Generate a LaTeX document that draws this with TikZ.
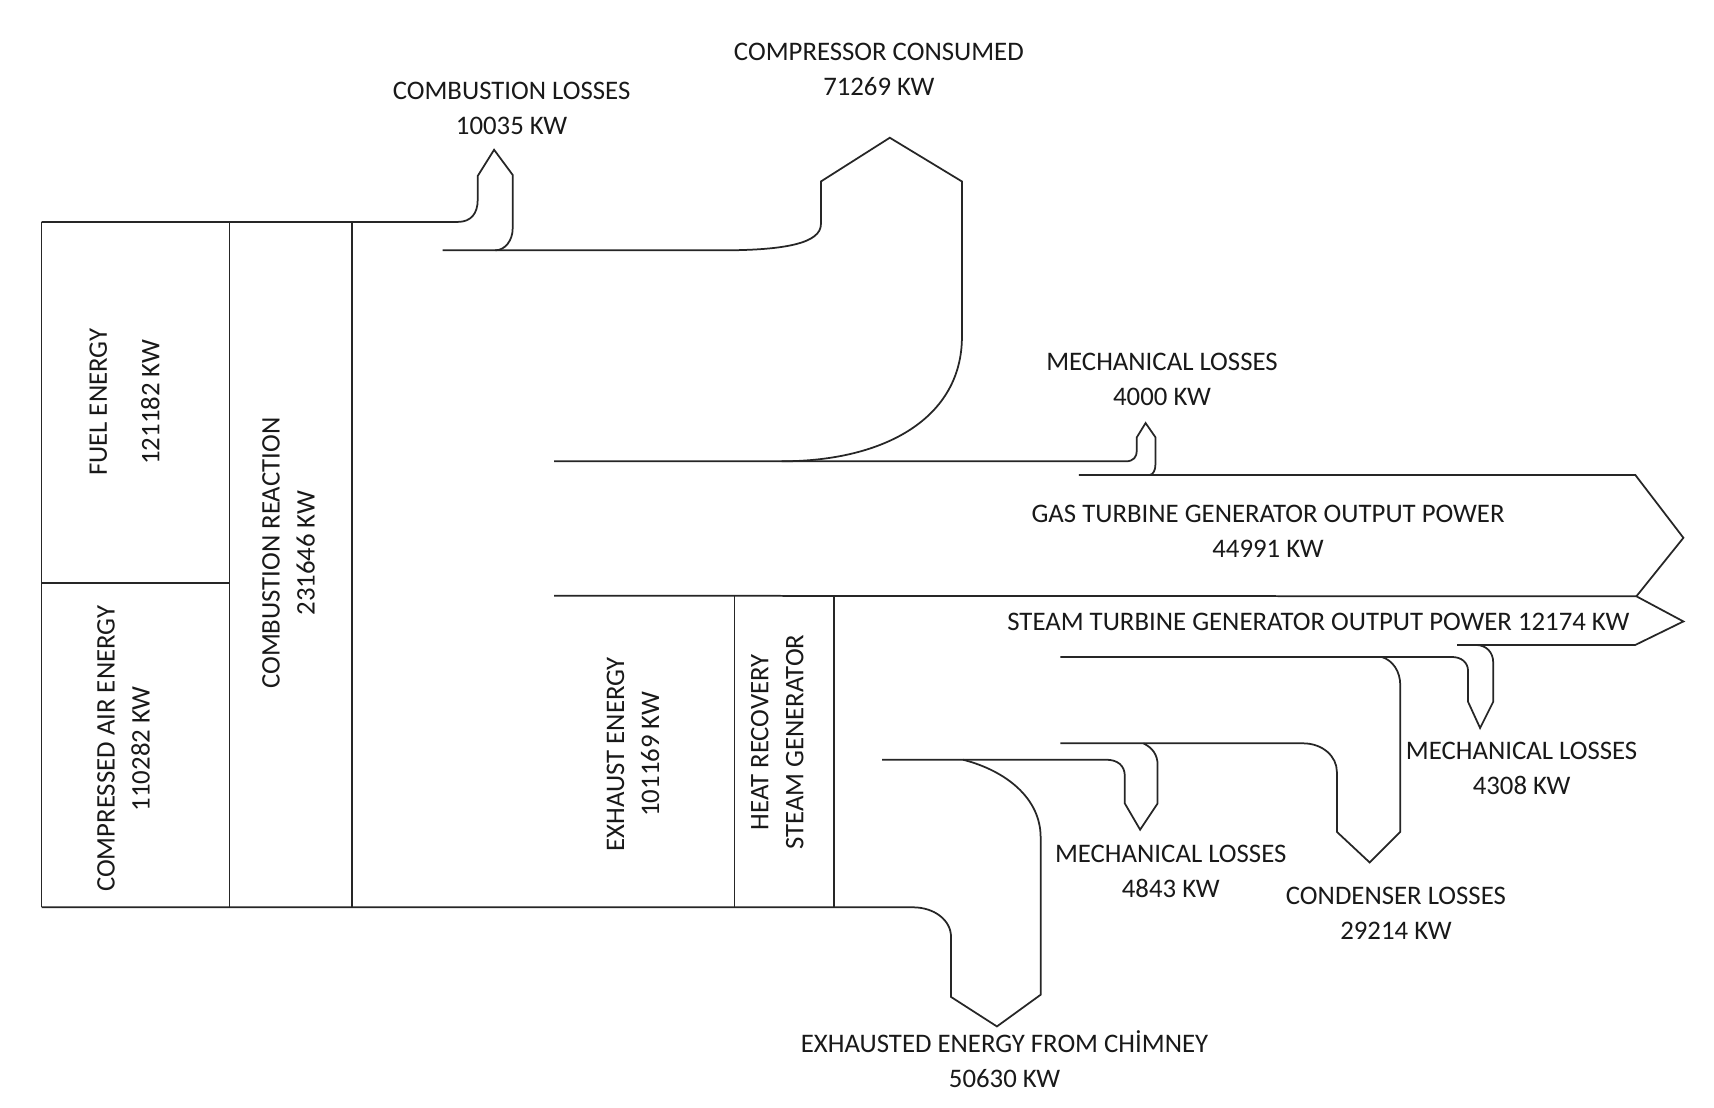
\documentclass[tikz,border=0pt]{standalone}
\usepackage{fontspec}
\setmainfont{Carlito}
\begin{document}
\begin{tikzpicture}[x=1pt,y=-1pt,
  lbl/.style={font=\fontsize{24.5}{32}\selectfont, align=center, inner sep=0pt, text=black!90},
  flow/.style={draw=black!85, line width=1.6pt, line join=miter}]
\useasboundingbox[fill=white] (0,0) rectangle (1568,1013);

% ---- input block ----
\draw[flow] (38,203) -- (38,830);
\draw[flow] (210,203) -- (210,830);
\draw[flow] (322,203) -- (322,830);
\draw[flow] (38,533) -- (210,533);

% top edge + combustion losses
\draw[flow] (38,203) -- (419,203) .. controls (431,203) and (437,195) .. (437,183)
  -- (437,161) -- (452,137) -- (469,160) -- (469,209)
  .. controls (469,220) and (462,229) .. (453,229);

% main upper boundary + compressor consumed
\draw[flow] (405,229) -- (660,229) .. controls (720,229) and (751,222) .. (751,205)
  -- (751,166) -- (814,126) -- (880,166) -- (880,308)
  .. controls (880,382) and (810,422) .. (715,422);

% line 422 + mechanical losses 4000
\draw[flow] (507,422) -- (1030,422) .. controls (1037,422) and (1040,418) .. (1040,412)
  -- (1040,400) -- (1048,387) -- (1057,400) -- (1057,425)
  .. controls (1057,430) and (1055,434) .. (1052,434.5);

% gas turbine arrow + steam arrow
\draw[flow] (987,434.5) -- (1496,434.5) -- (1540,492) -- (1497,545.5)
  -- (1540,568.5) -- (1496,590) -- (1333,590);
\draw[flow] (507,545) -- (1497,545.5);

% exhaust / HRSG separators
\draw[flow] (672,545) -- (672,830);
\draw[flow] (763,545) -- (763,830);

% mechanical losses 4308
\draw[flow] (1350,590) .. controls (1360,590) and (1366,597) .. (1366,606)
  -- (1366,642) -- (1354,666) -- (1343,642) -- (1343,614)
  .. controls (1343,606) and (1337,601) .. (1328,601) -- (970,601);

% condenser losses
\draw[flow] (1264,601) .. controls (1274,604) and (1281,614) .. (1281,627)
  -- (1281,761) -- (1253,789) -- (1223,761) -- (1223,706)
  .. controls (1223,692) and (1210,680) .. (1192,680) -- (970,680);

% mechanical losses 4843
\draw[flow] (1046,680) .. controls (1054,684) and (1059,690) .. (1059,700)
  -- (1059,735) -- (1043,759) -- (1029,735) -- (1029,710)
  .. controls (1029,700) and (1022,695) .. (1012,695) -- (807,695);

% chimney
\draw[flow] (881,695) .. controls (920,705) and (952,730) .. (952,766)
  -- (952,910) -- (912,939) -- (870,912) -- (870,857)
  .. controls (870,842) and (855,830) .. (835,830) -- (38,830);

% ---- labels ----
\node[lbl] (combloss) at (468,99.5) {COMBUSTION LOSSES\\10035 KW};
\node[lbl] (compcons) at (804,63.5) {COMPRESSOR CONSUMED\\71269 KW};
\node[lbl] (mech1) at (1063,347) {MECHANICAL LOSSES\\4000 KW};
\node[lbl] (gasout) at (1160,486) {GAS TURBINE GENERATOR OUTPUT POWER\\44991 KW};
\node[lbl] (steamout) at (1206,569) {STEAM TURBINE GENERATOR OUTPUT POWER 12174 KW};
\node[lbl] (mech2) at (1392,702.5) {MECHANICAL LOSSES\\4308 KW};
\node[lbl] (mech3) at (1071,797) {MECHANICAL LOSSES\\4843 KW};
\node[lbl] (cond) at (1277,835.5) {CONDENSER LOSSES\\29214 KW};
\node[lbl] (chim) at (919,969) {EXHAUSTED ENERGY FROM CHİMNEY\\50630 KW};

\node[lbl, rotate=90] (fuel) at (114,368) {FUEL ENERGY\\[16pt]121182 KW};
\node[lbl, rotate=90] (air) at (113,685) {COMPRESSED AIR ENERGY\\110282 KW};
\node[lbl, rotate=90] (comb) at (264,506) {COMBUSTION REACTION\\231646 KW};
\node[lbl, rotate=90] (exh) at (579,690) {EXHAUST ENERGY\\101169 KW};
\node[lbl, rotate=90] (hrsg) at (711,679) {HEAT RECOVERY\\STEAM GENERATOR};
\end{tikzpicture}
\end{document}
